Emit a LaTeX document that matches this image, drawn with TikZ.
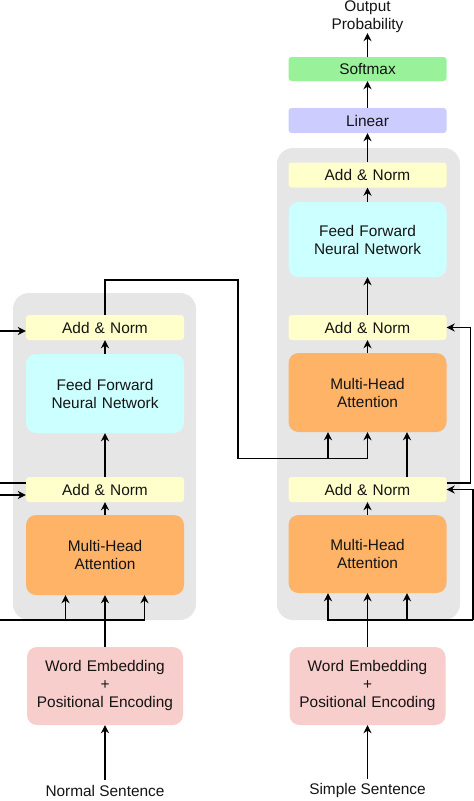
\documentclass[tikz,border=0pt]{standalone}
\usepackage{fontspec}
\setmainfont{Liberation Sans}
\usetikzlibrary{arrows.meta}

\definecolor{layergray}{HTML}{E6E6E6}
\definecolor{addyellow}{HTML}{FFFFCC}
\definecolor{ffcyan}{HTML}{CCFFFF}
\definecolor{mhaorange}{HTML}{FFB366}
\definecolor{embpink}{HTML}{F8CECC}
\definecolor{linblue}{HTML}{CCCCFF}
\definecolor{softgreen}{HTML}{99F299}

\begin{document}
\begin{tikzpicture}[x=1pt,y=-1pt,
	txt/.style={align=center,text=black!92,font=\fontsize{15.4}{18}\selectfont},
	layer/.style={rectangle,fill=layergray,rounded corners=16pt,minimum width=183pt},
	box/.style={txt,rectangle,inner sep=0pt,text width=150pt,minimum width=158pt},
	addnorm/.style={box,fill=addyellow,rounded corners=3pt,minimum height=25pt},
	thinbox/.style={box,rounded corners=3pt,minimum height=25pt},
	ffbox/.style={box,fill=ffcyan,rounded corners=10pt},
	mhabox/.style={box,fill=mhaorange,rounded corners=10pt},
	embbox/.style={box,fill=embpink,rounded corners=10pt,minimum width=156pt,minimum height=78pt},
	plain/.style={txt,inner sep=5pt},
	arr/.style={-{Stealth[length=8pt,width=8pt]},line width=1.4pt},
	line/.style={line width=1.4pt}]
	\useasboundingbox (0,0) rectangle (474,801);

	% encoder
	\node[layer,minimum height=327pt] (enc) at (104.5,456.5) {};
	\node[addnorm] (encAN2) at (105,327.5) {Add \& Norm};
	\node[ffbox,minimum height=79pt] (encFF) at (105,393.5) {Feed Forward\\Neural Network};
	\node[addnorm] (encAN1) at (105,489.5) {Add \& Norm};
	\node[mhabox,minimum height=80pt] (encMHA) at (105,555) {Multi-Head\\Attention};
	\node[embbox] (encEmb) at (105,686) {Word Embedding\\+\\Positional Encoding};
	\node[plain] (normal) at (105,791) {Normal Sentence};

	% decoder
	\node[layer,minimum height=472pt] (dec) at (368.5,384) {};
	\node[addnorm] (decAN3) at (367.5,175) {Add \& Norm};
	\node[ffbox,minimum height=75pt] (decFF) at (367.5,239.5) {Feed Forward\\Neural Network};
	\node[addnorm] (decAN2) at (367.5,327.5) {Add \& Norm};
	\node[mhabox,minimum height=79pt] (decMHA2) at (367.5,392.5) {Multi-Head\\Attention};
	\node[addnorm] (decAN1) at (367.5,489.5) {Add \& Norm};
	\node[mhabox,minimum height=78pt] (decMHA1) at (367.5,554) {Multi-Head\\Attention};
	\node[embbox] (decEmb) at (367.5,686) {Word Embedding\\+\\Positional Encoding};
	\node[plain] (simple) at (367.5,791) {Simple Sentence};
	\node[thinbox,fill=linblue] (linear) at (367.5,120.5) {Linear};
	\node[thinbox,fill=softgreen,minimum height=24pt] (softmax) at (367.5,69) {Softmax};
	\node[txt,inner sep=0pt] (outprob) at (367.5,17) {Output\\Probability};

	% encoder connectors
	\coordinate (encIn) at (0,620);
	\coordinate (encFromL1) at (0,483);
	\coordinate (encFromL2) at (0,495);
	\coordinate (encFromL3) at (0,331);
	\draw[arr] (normal) -- (encEmb);
	\draw[arr] (encEmb) -- (encMHA);
	\foreach \dx in {-39.5,39.5}
		\draw[arr] (encIn) -| ([xshift=\dx pt]encMHA.south);
	\draw[arr] (encMHA) -- (encAN1);
	\draw[arr] (encAN1) -- (encFF);
	\draw[arr] (encFF) -- (encAN2);
	\draw[line] (encFromL1) -- (encFromL1 -| encAN1.west);
	\draw[arr] (encFromL2) -- (encFromL2 -| encAN1.west);
	\draw[arr] (encFromL3) -- (encFromL3 -| encAN2.west);

	% encoder output to decoder
	\coordinate (bend) at (238,280);
	\coordinate (kv) at ([yshift=-26pt]decMHA2.south);
	\draw[line] (encAN2.north) |- (bend) |- (kv);
	\draw[arr] (kv) -- (decMHA2.south);
	\draw[arr] ([xshift=-39.5pt]kv) -- ([xshift=-39.5pt]decMHA2.south);

	% decoder connectors
	\coordinate (decIn) at (473,620);
	\draw[arr] (simple) -- (decEmb);
	\draw[arr] (decEmb) -- (decMHA1);
	\foreach \dx in {-39.5,39.5}
		\draw[arr] (decIn) -| ([xshift=\dx pt]decMHA1.south);
	\draw[arr] (decIn) |- (decAN1.east);
	\draw[arr] (decMHA1) -- (decAN1);
	\draw[arr] ([xshift=39.5pt]decAN1.north) -- ([xshift=39.5pt]decMHA2.south);
	\draw[arr] ([yshift=6.5pt]decAN1.east) -- ++(24,0) |- (decAN2.east);
	\draw[arr] (decMHA2) -- (decAN2);
	\draw[arr] (decAN2) -- (decFF);
	\draw[arr] (decFF) -- (decAN3);
	\draw[arr] (decAN3) -- (linear);
	\draw[arr] (linear) -- (softmax);
	\draw[arr] (softmax) -- (outprob);
\end{tikzpicture}
\end{document}
